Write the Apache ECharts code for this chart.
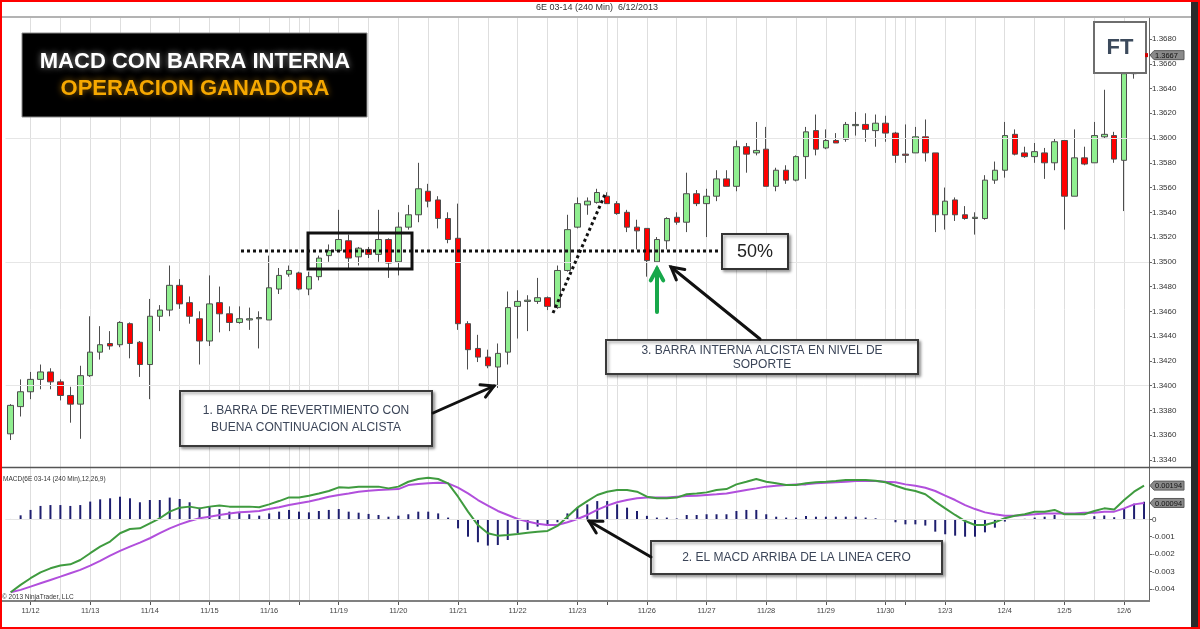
<!DOCTYPE html>
<html><head><meta charset="utf-8">
<script src="https://cdn.jsdelivr.net/npm/echarts@6/dist/echarts.min.js"></script>
<style>html,body{margin:0;padding:0;background:#fff;}#c{width:1200px;height:629px;}</style>
</head><body><div id="c"></div><script>
// ---- price bars (240 min), index 0..114 ----
const opens=[1.3361,1.3383,1.3395,1.3405,1.3411,1.3403,1.3392,1.3385,1.3408,1.3427,
1.3434,1.3433,1.3450,1.3435,1.3417,1.3456,1.3461,1.3481,1.3467,1.3454,
1.3436,1.3467,1.3458,1.3451,1.3453,1.3454,1.3453,1.3478,1.3490,1.3491,
1.3478,1.3488,1.3505,1.3509,1.3517,1.3504,1.3510,1.3506,1.3518,1.3500,
1.3528,1.3538,1.3557,1.3550,1.3535,1.3519,1.3450,1.3430,1.3423,1.3415,
1.3427,1.3464,1.3468,1.3468,1.3471,1.3463,1.3493,1.3528,1.3546,1.3548,
1.3553,1.3547,1.3540,1.3528,1.3527,1.3500,1.3517,1.3536,1.3532,1.3555,
1.3547,1.3553,1.3567,1.3561,1.3593,1.3588,1.3591,1.3561,1.3574,1.3566,
1.3585,1.3606,1.3592,1.3598,1.3599,1.3610,1.3611,1.3606,1.3612,1.3604,
1.3587,1.3588,1.3601,1.3588,1.3538,1.3550,1.3538,1.3535,1.3535,1.3566,
1.3574,1.3603,1.3588,1.3585,1.3588,1.3580,1.3598,1.3553,1.3584,1.3580,
1.3601,1.3602,1.3582,1.3652,1.3660];
const closes=[1.3384,1.3395,1.3405,1.3411,1.3403,1.3392,1.3385,1.3408,1.3427,1.3433,
1.3432,1.3451,1.3434,1.3417,1.3456,1.3461,1.3481,1.3466,1.3456,1.3436,
1.3466,1.3458,1.3451,1.3454,1.3454,1.3455,1.3479,1.3489,1.3493,1.3478,
1.3488,1.3503,1.3509,1.3518,1.3503,1.3511,1.3506,1.3518,1.3499,1.3528,
1.3538,1.3559,1.3549,1.3535,1.3518,1.3450,1.3429,1.3423,1.3416,1.3426,
1.3463,1.3468,1.3469,1.3471,1.3464,1.3493,1.3526,1.3547,1.3549,1.3556,
1.3547,1.3539,1.3528,1.3525,1.3501,1.3518,1.3535,1.3532,1.3555,1.3547,
1.3553,1.3567,1.3561,1.3593,1.3587,1.3590,1.3561,1.3574,1.3566,1.3585,
1.3605,1.3591,1.3598,1.3596,1.3611,1.3611,1.3607,1.3612,1.3604,1.3586,
1.3586,1.3601,1.3588,1.3538,1.3549,1.3538,1.3535,1.3536,1.3566,1.3574,
1.3602,1.3587,1.3585,1.3589,1.3580,1.3597,1.3553,1.3584,1.3579,1.3602,
1.3603,1.3583,1.3652,1.3660,1.3667];
const lows=[1.3356,1.3375,1.3389,1.3397,1.3397,1.3388,1.3370,1.3357,1.3407,1.3421,
1.3429,1.3431,1.3422,1.3407,1.3389,1.3444,1.3456,1.3462,1.3450,1.3417,
1.3432,1.3443,1.3444,1.3450,1.3445,1.3430,1.3453,1.3474,1.3488,1.3477,
1.3473,1.3485,1.3500,1.3508,1.3495,1.3497,1.3503,1.3500,1.3487,1.3489,
1.3526,1.3532,1.3544,1.3527,1.3515,1.3445,1.3413,1.3419,1.3414,1.3398,
1.3417,1.3438,1.3444,1.3466,1.3461,1.3462,1.3492,1.3527,1.3538,1.3547,
1.3547,1.3538,1.3524,1.3510,1.3488,1.3500,1.3510,1.3530,1.3524,1.3545,
1.3520,1.3549,1.3561,1.3557,1.3572,1.3586,1.3561,1.3557,1.3563,1.3565,
1.3567,1.3586,1.3591,1.3596,1.3597,1.3602,1.3597,1.3593,1.3597,1.3580,
1.3580,1.3588,1.3581,1.3524,1.3526,1.3533,1.3534,1.3522,1.3534,1.3563,
1.3568,1.3586,1.3584,1.3580,1.3567,1.3574,1.3526,1.3553,1.3578,1.3580,
1.3600,1.3580,1.3541,1.3648,1.3655];
const highs=[1.3385,1.3405,1.3411,1.3417,1.3414,1.3405,1.3399,1.3416,1.3456,1.3448,
1.3444,1.3452,1.3451,1.3436,1.3470,1.3465,1.3497,1.3486,1.3472,1.3460,
1.3489,1.3480,1.3464,1.3464,1.3463,1.3460,1.3505,1.3495,1.3497,1.3492,
1.3492,1.3505,1.3514,1.3542,1.3522,1.3512,1.3512,1.3542,1.3519,1.3540,
1.3546,1.3580,1.3563,1.3553,1.3540,1.3547,1.3452,1.3441,1.3429,1.3434,
1.3476,1.3477,1.3473,1.3487,1.3472,1.3497,1.3538,1.3552,1.3552,1.3559,
1.3556,1.3549,1.3542,1.3534,1.3527,1.3520,1.3536,1.3540,1.3572,1.3558,
1.3559,1.3574,1.3574,1.3598,1.3596,1.3613,1.3609,1.3576,1.3578,1.3586,
1.3609,1.3619,1.3607,1.3604,1.3613,1.3621,1.3620,1.3619,1.3618,1.3605,
1.3611,1.3609,1.3615,1.3588,1.3560,1.3552,1.3545,1.3540,1.3570,1.3581,
1.3613,1.3607,1.3593,1.3596,1.3592,1.3600,1.3598,1.3607,1.3593,1.3613,
1.3639,1.3605,1.3658,1.3668,1.3672];
// ---- MACD(12,26,9) ----
const macdLine=[-0.0042,-0.00377,-0.00339,-0.00305,-0.00282,-0.00266,-0.00259,-0.00234,-0.00195,-0.00157,
-0.00128,-0.0008,-0.00056,-0.00052,-0.00023,0.00006,0.00044,0.00067,0.00073,0.00063,
0.00073,0.00079,0.00073,0.00073,0.00073,0.00069,0.00086,0.00105,0.00126,0.00126,
0.00136,0.00149,0.00163,0.00184,0.00182,0.00188,0.00188,0.00188,0.00178,0.00188,
0.00216,0.00232,0.00239,0.00232,0.00207,0.0013,0.00044,-0.00033,-0.0008,-0.00094,
-0.0009,-0.00084,-0.00077,-0.00071,-0.00067,-0.00038,0.00015,0.00067,0.00105,0.0014,
0.00159,0.00169,0.00169,0.00159,0.0013,0.00121,0.00121,0.00125,0.00144,0.00149,
0.00155,0.00169,0.00174,0.00201,0.00216,0.00232,0.00216,0.00207,0.00197,0.00197,
0.00207,0.00213,0.00216,0.0022,0.00226,0.00226,0.00226,0.00222,0.00213,0.00193,
0.00174,0.00163,0.00144,0.00102,0.00063,0.00025,-0.0001,-0.00033,-0.00033,-0.00017,
0.00006,0.00021,0.00029,0.00044,0.00044,0.00054,0.00029,0.00029,0.00029,0.00048,
0.00063,0.00057,0.00111,0.00159,0.00194];
const signalLine=[-0.0042,-0.00406,-0.00387,-0.00368,-0.00349,-0.0033,-0.0031,-0.00291,-0.00266,-0.00239,
-0.00209,-0.00182,-0.00157,-0.00134,-0.00109,-0.0008,-0.00052,-0.00029,-0.0001,0.00006,
0.00015,0.00025,0.00034,0.0004,0.00044,0.00048,0.00059,0.00069,0.00082,0.00092,
0.00102,0.00115,0.0013,0.0014,0.00149,0.00159,0.00165,0.00169,0.00172,0.00174,
0.00197,0.00203,0.00207,0.00211,0.00207,0.00182,0.00149,0.00111,0.00079,0.00048,
0.00025,0.00002,-0.00013,-0.00025,-0.00033,-0.00033,-0.00017,0.00002,0.00025,0.00054,
0.00079,0.00098,0.00111,0.00121,0.00126,0.00126,0.00126,0.0013,0.00134,0.00136,
0.0014,0.00144,0.00149,0.00159,0.00169,0.00178,0.00188,0.00193,0.00197,0.00201,
0.00201,0.00207,0.00211,0.00213,0.00216,0.0022,0.0022,0.0022,0.00216,0.00213,
0.00201,0.00193,0.00182,0.00163,0.00136,0.00111,0.00082,0.00059,0.0004,0.00029,
0.00021,0.00021,0.00025,0.00029,0.00034,0.00034,0.00034,0.00034,0.00038,0.00038,
0.00044,0.00044,0.00063,0.00086,0.00094];
const histogram=[0.00002,0.00023,0.00054,0.00077,0.00082,0.00082,0.00077,0.00082,0.00102,0.00115,
0.00121,0.0013,0.00121,0.00098,0.00111,0.00111,0.00125,0.00117,0.00098,0.00067,
0.00073,0.00059,0.00044,0.0004,0.00029,0.00021,0.00034,0.00044,0.00054,0.00044,
0.0004,0.00048,0.00054,0.00059,0.00044,0.00038,0.00031,0.00025,0.00015,0.00021,
0.00029,0.00044,0.00044,0.00034,0.0001,-0.00052,-0.001,-0.00132,-0.00151,-0.00148,
-0.00119,-0.0008,-0.00061,-0.00042,-0.00036,-0.00017,0.00034,0.00067,0.00086,0.00105,
0.00105,0.00086,0.00067,0.00048,0.0002,0.0001,0.0001,0.00005,0.00025,0.00025,
0.00029,0.00029,0.00029,0.00048,0.00054,0.00054,0.00029,0.00015,0.0001,0.0001,
0.00019,0.00015,0.00015,0.00015,0.00015,0.00015,0.0001,0.00006,0.00002,-0.00017,
-0.00029,-0.00029,-0.00036,-0.00071,-0.00086,-0.00094,-0.001,-0.001,-0.00075,-0.00048,
-0.00013,0.00002,0.00003,0.0001,0.00015,0.00025,-0.00003,0,0.00002,0.00018,
0.00022,0.00012,0.0006,0.0009,0.00101];
// ---- axis structure ----
const dateTickBars=[2,8,14,20,26,33,39,45,51,57,64,70,76,82,88,94,100,106,112];
const dateTickLabels=['11/12','11/13','11/14','11/15','11/16','11/19','11/20','11/21','11/22','11/23','11/26','11/27','11/28','11/29','11/30','12/3','12/4','12/5','12/6'];
const sessionTickBars=[29,60,90];
const gridLineBars=[2,5,8,11,14,17,20,23,26,28,29,30,33,36,39,42,45,48,51,54,57,60,61,64,67,70,73,76,79,82,85,88,89,90,91,94,97,100,103,106,109,112];
const priceTicks=[1.334,1.336,1.338,1.340,1.342,1.344,1.346,1.348,1.350,1.352,1.354,1.356,1.358,1.360,1.362,1.364,1.366,1.368];
const priceGridLevels=[1.340,1.346,1.352,1.358,1.364];
const macdTicks=[-0.004,-0.003,-0.002,-0.001,0];
const macdGridLevels=[0.002,-0.001,-0.004];

const bars=opens.map((_,i)=>String(i));
const candleData=opens.map((o,i)=>[o,closes[i],lows[i],highs[i]]);
const labelMap=new Map(dateTickBars.map((b,i)=>[b,dateTickLabels[i]]));
const tickSet=new Set(dateTickBars.concat(sessionTickBars));
const gridSet=new Set(gridLineBars);

const chart=echarts.init(document.getElementById('c'),null,{renderer:'canvas'});
const F='Liberation Sans, Arial, sans-serif';
const hiddenX=(g)=>({type:'category',gridIndex:g,data:bars,boundaryGap:true,show:false});
const levelLine=(vals,xi,yi,col)=>({type:'line',xAxisIndex:xi,yAxisIndex:yi,data:[],z:0,silent:true,
  markLine:{silent:true,symbol:'none',label:{show:false},animation:false,
    lineStyle:{color:col,width:1,type:'solid'},data:vals.map(v=>({yAxis:v}))}});

const option={
  animation:false,
  backgroundColor:'#ffffff',
  grid:[
    {left:5.7,width:1143.3,top:18,height:449},
    {left:5.7,width:1143.3,top:467,height:134},
    {left:10.67,width:1133.2,top:18,height:583}
  ],
  xAxis:[hiddenX(0),hiddenX(1),
    {type:'category',gridIndex:2,data:bars,boundaryGap:false,position:'bottom',
     axisLine:{show:false},
     axisTick:{show:true,interval:(i)=>tickSet.has(i),length:4,lineStyle:{color:'#555',width:1}},
     axisLabel:{show:true,interval:(i)=>labelMap.has(i),formatter:(v)=>labelMap.get(Number(v))||'',
       fontSize:7.5,color:'#444',fontFamily:F,margin:6},
     splitLine:{show:true,interval:(i)=>gridSet.has(i),lineStyle:{color:'#dedede',width:1}}}
  ],
  yAxis:[
    {type:'value',gridIndex:0,position:'right',min:1.33342,max:1.3697,scale:true,
     axisLine:{show:true,lineStyle:{color:'#666',width:1}},
     axisTick:{show:true,customValues:priceTicks,length:3,lineStyle:{color:'#666'}},
     axisLabel:{show:true,customValues:priceTicks,formatter:(v)=>v.toFixed(4),fontSize:8,color:'#333',fontFamily:F,margin:3},
     splitLine:{show:false}},
    {type:'value',gridIndex:1,position:'right',min:-0.0047,max:0.00301,
     axisLine:{show:true,lineStyle:{color:'#666',width:1}},
     axisTick:{show:true,customValues:macdTicks,length:3,lineStyle:{color:'#666'}},
     axisLabel:{show:true,customValues:macdTicks,formatter:(v)=>v===0?'0':String(v),fontSize:8,color:'#333',fontFamily:F,margin:3},
     splitLine:{show:false}},
    {type:'value',gridIndex:2,show:false,min:0,max:1}
  ],
  series:[
    {type:'candlestick',name:'6E',xAxisIndex:0,yAxisIndex:0,data:candleData,barWidth:6,z:3,
     itemStyle:{color:'#90ee90',color0:'#ff0000',borderColor:'#4d4d4d',borderColor0:'#4d4d4d',borderColorDoji:'#4d4d4d',borderWidth:1}},
    levelLine(priceGridLevels,0,0,'#e6e6e6'),
    levelLine(macdGridLevels,1,1,'#e6e6e6'),
    {type:'bar',name:'Diff',xAxisIndex:1,yAxisIndex:1,data:histogram,barWidth:2,z:2,
     itemStyle:{color:'#1e1e6e'}},
    {type:'line',name:'Avg',xAxisIndex:1,yAxisIndex:1,data:signalLine,symbol:'none',z:3,
     lineStyle:{color:'#b14fdc',width:2}},
    {type:'line',name:'Macd',xAxisIndex:1,yAxisIndex:1,data:macdLine,symbol:'none',z:4,
     lineStyle:{color:'#3f9b3f',width:2}}
  ]
};
chart.setOption(option);

function arrow(x1,y1,x2,y2,color,w,head){
  const a=Math.atan2(y2-y1,x2-x1), s=0.5;
  return [
    {type:'line',shape:{x1,y1,x2,y2},style:{stroke:color,lineWidth:w,lineCap:'round'},z:20},
    {type:'polyline',shape:{points:[[x2+head*Math.cos(a+Math.PI-s),y2+head*Math.sin(a+Math.PI-s)],[x2,y2],[x2+head*Math.cos(a+Math.PI+s),y2+head*Math.sin(a+Math.PI+s)]]},
     style:{stroke:color,lineWidth:w,fill:null,lineJoin:'miter',lineCap:'round'},z:20}
  ];
}
const boxShadow={shadowBlur:3,shadowOffsetX:2,shadowOffsetY:2,shadowColor:'rgba(0,0,0,0.35)'};
function noteBox(x,y,w,h,lines,lh,cy){
  const els=[{type:'rect',shape:{x,y,width:w,height:h},style:Object.assign({fill:'#fff',stroke:'#3a3a3a',lineWidth:2},boxShadow),z:19}];
  lines.forEach((t,i)=>els.push({type:'text',x:x+w/2,y:cy+i*lh,z:21,style:{text:t,fill:'#3b4558',font:'12px '+F,align:'center',verticalAlign:'middle'}}));
  return els;
}
function flag(y,txt){
  const x=1150,h=9,w=34;
  return [
    {type:'polygon',shape:{points:[[x,y],[x+4,y-h/2],[x+w,y-h/2],[x+w,y+h/2],[x+4,y+h/2]]},style:{fill:'#8a8a8a',stroke:'#5a5a5a',lineWidth:1},z:30},
    {type:'text',x:x+5,y:y+0.5,z:31,style:{text:txt,fill:'#111',font:'7.5px '+F,verticalAlign:'middle'}}
  ];
}
const last=closes.length-1;
const yClose=chart.convertToPixel({xAxisIndex:0,yAxisIndex:0},[String(last),closes[last]])[1];
const yMacd=chart.convertToPixel({xAxisIndex:1,yAxisIndex:1},[String(last),macdLine[last]])[1];
const ySig=chart.convertToPixel({xAxisIndex:1,yAxisIndex:1},[String(last),signalLine[last]])[1];

const g=[];
// frame
g.push({type:'rect',shape:{x:1191,y:0,width:7,height:629},style:{fill:'#2b2b2b'},z:40});
g.push({type:'rect',shape:{x:1,y:1,width:1198,height:627},style:{fill:null,stroke:'#ff0000',lineWidth:2},z:41});
g.push({type:'text',x:597,y:8,z:10,style:{text:'6E 03-14 (240 Min)  6/12/2013',fill:'#333',font:'9px '+F,align:'center',verticalAlign:'middle'}});
g.push({type:'line',shape:{x1:0,y1:17,x2:1191,y2:17},style:{stroke:'#9a9a9a',lineWidth:1.5},z:10});
g.push({type:'line',shape:{x1:0,y1:467.5,x2:1191,y2:467.5},style:{stroke:'#555',lineWidth:1.5},z:10});
g.push({type:'line',shape:{x1:0,y1:601,x2:1150,y2:601},style:{stroke:'#808080',lineWidth:2},z:10});
g.push({type:'text',x:3,y:479,z:10,style:{text:'MACD(6E 03-14 (240 Min),12,26,9)',fill:'#333',font:'6.5px '+F,verticalAlign:'middle'}});
g.push({type:'text',x:2,y:597,z:10,style:{text:'© 2013 NinjaTrader, LLC',fill:'#333',font:'6.5px '+F,verticalAlign:'middle'}});
// title box
g.push({type:'rect',shape:{x:22,y:33,width:345,height:84},style:{fill:'#000',stroke:'#8a8a8a',lineWidth:1},z:15});
g.push({type:'text',x:195,y:62,z:16,style:{text:'MACD CON BARRA INTERNA',fill:'#ffffff',font:'bold 22px '+F,align:'center',verticalAlign:'middle',textShadowColor:'rgba(255,255,255,0.55)',textShadowBlur:6}});
g.push({type:'text',x:195,y:89,z:16,style:{text:'OPERACION GANADORA',fill:'#f6a800',font:'bold 22px '+F,align:'center',verticalAlign:'middle',textShadowColor:'rgba(255,170,0,0.6)',textShadowBlur:6}});
// FT box
g.push({type:'rect',shape:{x:1094,y:22,width:52,height:51},style:{fill:'#fff',stroke:'#6e6e6e',lineWidth:2},z:25});
g.push({type:'text',x:1120,y:48,z:26,style:{text:'FT',fill:'#3c4a5c',font:'bold 22px '+F,align:'center',verticalAlign:'middle'}});
// inside bar rectangle
g.push({type:'rect',shape:{x:308,y:233,width:104,height:36},style:{fill:null,stroke:'#111',lineWidth:3},z:18});
// 50% dotted line and box
g.push({type:'line',shape:{x1:241,y1:251,x2:722,y2:251},style:{stroke:'#111',lineWidth:3,lineDash:[3,3]},z:17});
g.push({type:'line',shape:{x1:553,y1:313,x2:606,y2:192},style:{stroke:'#111',lineWidth:3,lineDash:[3,3]},z:17});
g.push({type:'rect',shape:{x:722,y:234,width:66,height:35},style:Object.assign({fill:'#fff',stroke:'#333',lineWidth:2},boxShadow),z:19});
g.push({type:'text',x:755,y:252,z:21,style:{text:'50%',fill:'#222',font:'18px '+F,align:'center',verticalAlign:'middle'}});
// green arrow
g.push(...arrow(657,312,657,269,'#17a84a',4,13));
// notes
g.push(...noteBox(180,391,252,55,['1. BARRA DE REVERTIMIENTO CON','BUENA CONTINUACION ALCISTA'],17,411));
g.push(...arrow(433,413,494,386,'#111',3,14));
g.push(...noteBox(606,340,312,34,['3. BARRA INTERNA ALCISTA EN NIVEL DE','SOPORTE'],14,351));
g.push(...arrow(760,339,671,267,'#111',3,14));
g.push(...noteBox(651,541,291,33,['2. EL MACD ARRIBA DE LA LINEA CERO'],0,558));
g.push(...arrow(651,557,589,521,'#111',3,14));
// last-price markers and flags
g.push({type:'rect',shape:{x:1145,y:yClose-2,width:3,height:4},style:{fill:'#d00000'},z:29});
g.push(...flag(yClose,closes[last].toFixed(4)));
g.push(...flag(yMacd,macdLine[last].toFixed(5)));
g.push(...flag(ySig,signalLine[last].toFixed(5)));
chart.setOption({graphic:{elements:g}});
</script></body></html>
